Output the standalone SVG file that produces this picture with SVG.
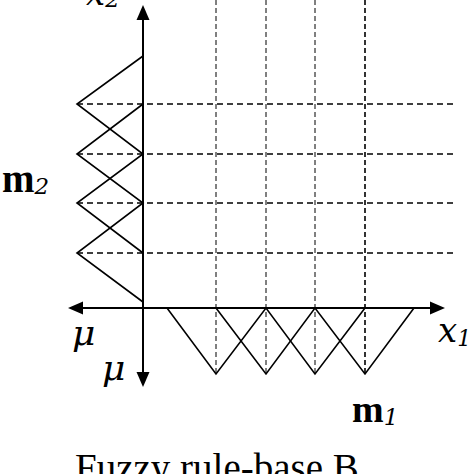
<svg xmlns="http://www.w3.org/2000/svg" width="474" height="474" viewBox="0 0 474 474">
<style>
.ax{stroke:#000;stroke-width:2;fill:none}
.mf{stroke:#000;stroke-width:1.6;fill:none;stroke-linejoin:miter}
.hd{stroke:#000;stroke-width:1.4;stroke-dasharray:6 4;fill:none}
.vd{stroke:#000;stroke-width:1;stroke-dasharray:5 3;fill:none}
.ah{fill:#000}
.t{font-family:"Liberation Serif","Times New Roman",serif;fill:#000}
.i{font-family:"DejaVu Serif","Liberation Serif",serif;font-style:italic;font-weight:normal}
.b{font-weight:bold}
</style>
<rect width="474" height="474" fill="#fff"/>
<g id="grid">
<line class="vd" x1="216" y1="0" x2="216" y2="374"/>
<line class="vd" x1="266" y1="0" x2="266" y2="374"/>
<line class="vd" x1="315" y1="0" x2="315" y2="374"/>
<line class="vd" x1="365" y1="0" x2="365" y2="374" style="stroke-width:1.6"/>
<line class="hd" x1="77" y1="104" x2="454" y2="104"/>
<line class="hd" x1="77" y1="154" x2="454" y2="154"/>
<line class="hd" x1="77" y1="203" x2="454" y2="203"/>
<line class="hd" x1="77" y1="253" x2="454" y2="253"/>
</g>
<g id="membership-x2">
<polyline class="mf" points="143,56 77,104 143,154 77,203 143,253"/>
<polyline class="mf" points="143,104 77,154 143,203 77,253 143,302"/>
</g>
<g id="membership-x1">
<polyline class="mf" points="167,308 216,374 266,308 315,374 365,308"/>
<polyline class="mf" points="216,308 266,374 315,308 365,374 414,308"/>
</g>
<g id="axes">
<line class="ax" x1="143" y1="18" x2="143" y2="373"/>
<line class="ax" x1="81" y1="308" x2="431" y2="308"/>
<polygon class="ah" points="143,5 136.5,20 149.5,20"/>
<polygon class="ah" points="143,387 136.5,372 149.5,372"/>
<polygon class="ah" points="68,308 83,301.5 83,314.5"/>
<polygon class="ah" points="445,308 430,301.5 430,314.5"/>
</g>
<g id="labels">
<text class="t i" x="86" y="5" font-size="34">x<tspan font-size="23" dy="2">2</tspan></text>
<text class="t b" x="2" y="192" font-size="39">m<tspan class="i" font-size="23" dy="2">2</tspan></text>
<text class="t i" x="72" y="345" font-size="36">μ</text>
<text class="t i" x="102" y="380" font-size="36">μ</text>
<text class="t i" x="438" y="342" font-size="34">x<tspan font-size="22" dy="4">1</tspan></text>
<text class="t b" x="352" y="422" font-size="38">m<tspan class="i" font-size="23" dy="3">1</tspan></text>
<text class="t" x="75" y="481" font-size="39">Fuzzy rule-base B</text>
</g>
</svg>
